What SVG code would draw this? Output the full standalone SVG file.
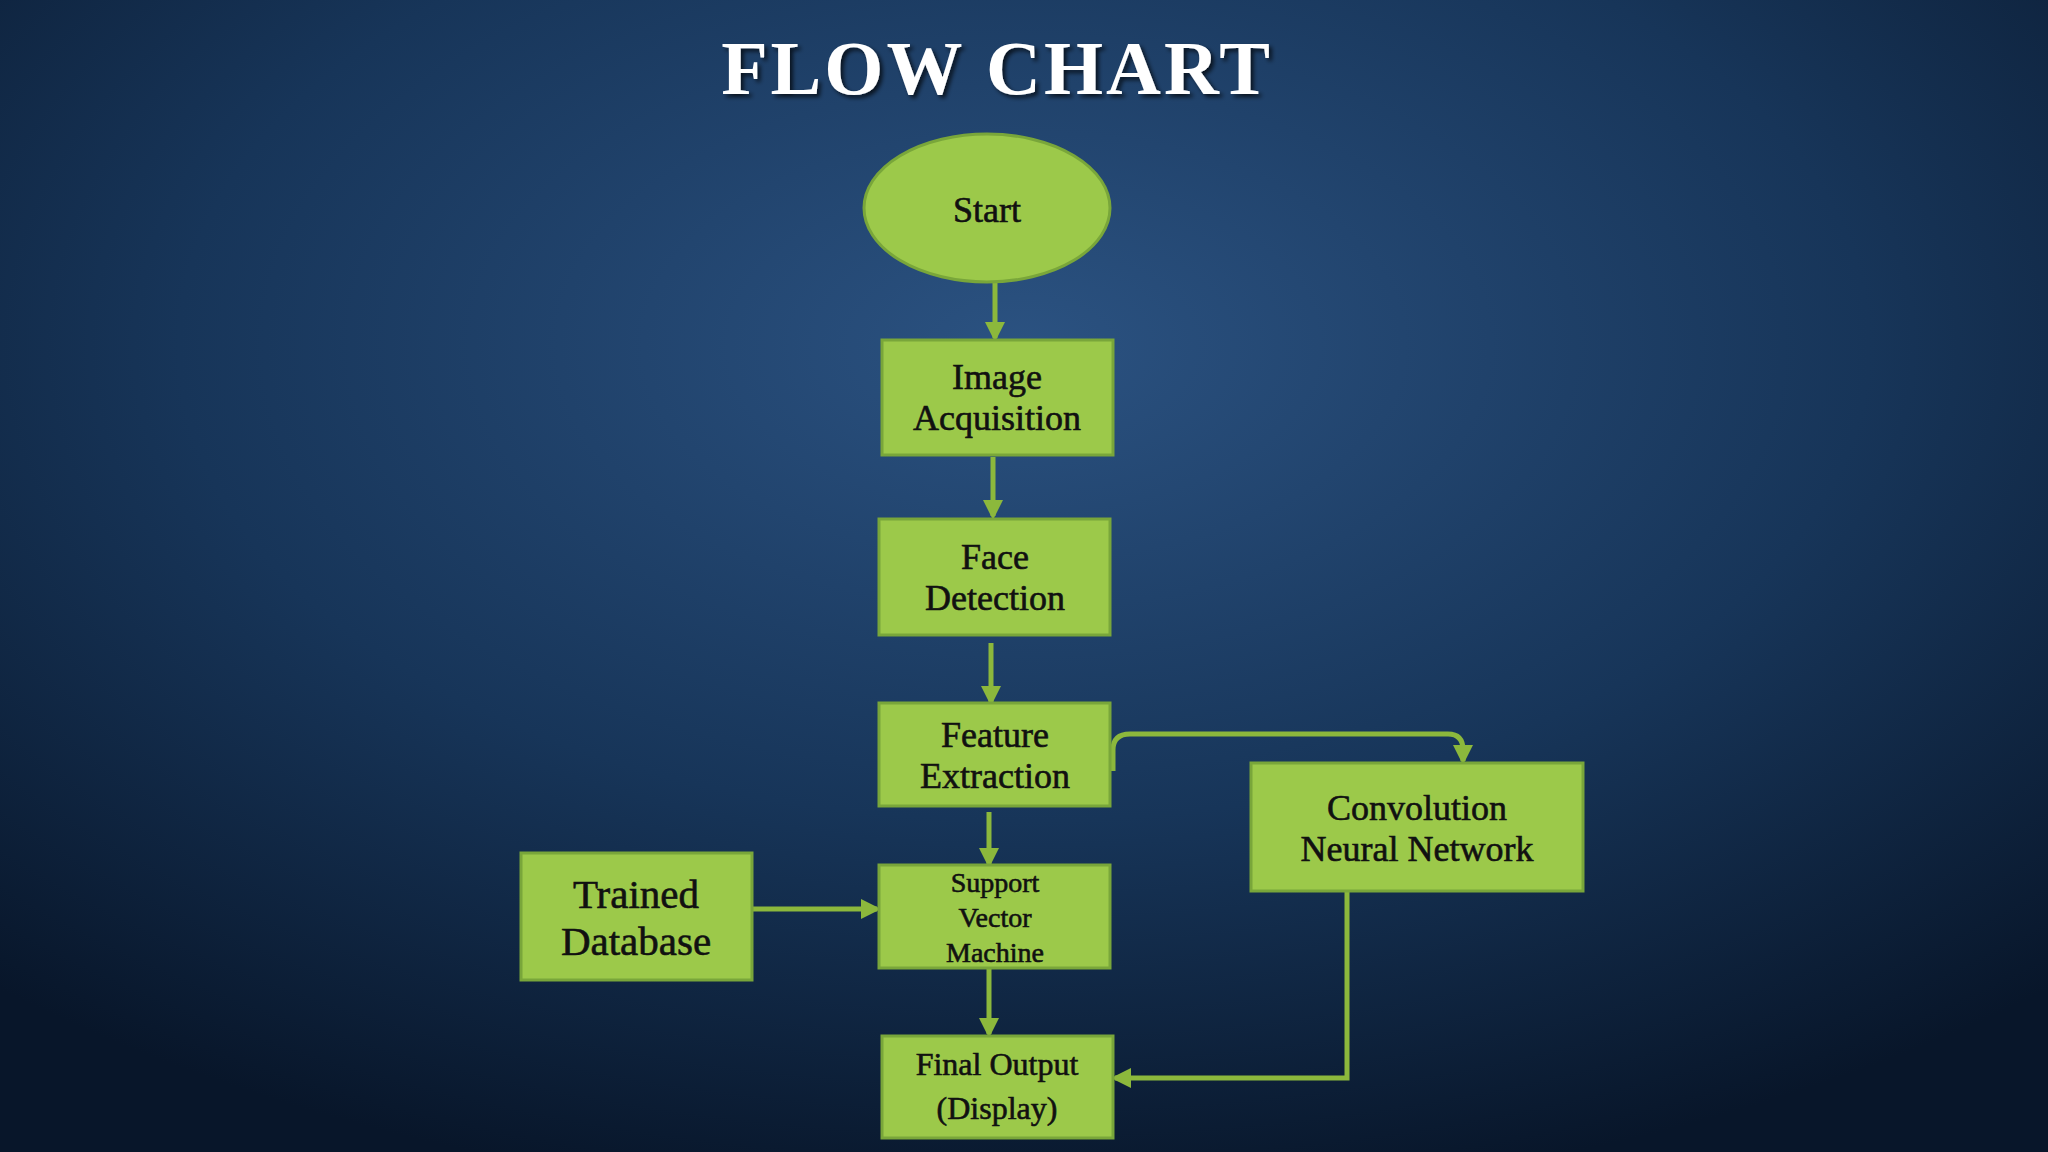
<svg xmlns="http://www.w3.org/2000/svg" width="2048" height="1152" viewBox="0 0 2048 1152">
<defs>
<radialGradient id="bg" cx="0.5" cy="0.3" r="0.75">
<stop offset="0" stop-color="#2b5281"/>
<stop offset="0.55" stop-color="#173559"/>
<stop offset="1" stop-color="#08162a"/>
</radialGradient>
<marker id="ah" viewBox="0 0 10 10" refX="8" refY="5" markerWidth="4" markerHeight="4" orient="auto"><path d="M0,0 L10,5 L0,10 z" fill="#8cb83c"/></marker>
<filter id="sh"><feDropShadow dx="3" dy="3" stdDeviation="2" flood-color="#000" flood-opacity="0.7"/></filter>
</defs>
<style>
.n{fill:#9cc94a;stroke:#79a63a;stroke-width:3}
.t{font-family:"Liberation Serif",serif;font-size:36px;fill:#111;text-anchor:middle;stroke:#111;stroke-width:0.6}
.s{font-size:28px}
.f{font-size:32px}
.b{font-size:41px}
.c{fill:none;stroke:#8cb83c;stroke-width:5;marker-end:url(#ah)}
</style>
<rect width="2048" height="1152" fill="url(#bg)"/>
<text x="997" y="94" font-family="Liberation Serif,serif" font-weight="bold" font-size="76" fill="#fff" text-anchor="middle" filter="url(#sh)" letter-spacing="3">FLOW CHART</text>
<g id="connectors">
<path class="c" d="M995,282 V338"/>
<path class="c" d="M993,457 V516"/>
<path class="c" d="M991,643 V702"/>
<path class="c" d="M989,812 V864"/>
<path class="c" d="M989,968 V1034"/>
<path class="c" d="M752,909 H877"/>
<path class="c" d="M1113,771 V750 Q1113,734 1130,734 H1448 Q1463,734 1463,750 V761"/>
<path class="c" d="M1347,891 V1078 H1115"/>
</g>
<g id="start"><ellipse class="n" cx="987" cy="208" rx="123" ry="74"/><text class="t" x="987" y="222">Start</text></g>
<g id="image-acquisition"><rect class="n" x="882" y="340" width="231" height="115"/><text class="t" x="997" y="389">Image</text><text class="t" x="997" y="430">Acquisition</text></g>
<g id="face-detection"><rect class="n" x="879" y="519" width="231" height="116"/><text class="t" x="995" y="569">Face</text><text class="t" x="995" y="610">Detection</text></g>
<g id="feature-extraction"><rect class="n" x="879" y="703" width="231" height="103"/><text class="t" x="995" y="747">Feature</text><text class="t" x="995" y="788">Extraction</text></g>
<g id="svm"><rect class="n" x="879" y="865" width="231" height="103"/><text class="t s" x="995" y="892">Support</text><text class="t s" x="995" y="927">Vector</text><text class="t s" x="995" y="962">Machine</text></g>
<g id="final-output"><rect class="n" x="882" y="1036" width="231" height="102"/><text class="t f" x="997" y="1075">Final Output</text><text class="t f" x="997" y="1119">(Display)</text></g>
<g id="trained-database"><rect class="n" x="521" y="853" width="231" height="127"/><text class="t b" x="636" y="908">Trained</text><text class="t b" x="636" y="955">Database</text></g>
<g id="cnn"><rect class="n" x="1251" y="763" width="332" height="128"/><text class="t" x="1417" y="820">Convolution</text><text class="t" x="1417" y="861">Neural Network</text></g>
</svg>
